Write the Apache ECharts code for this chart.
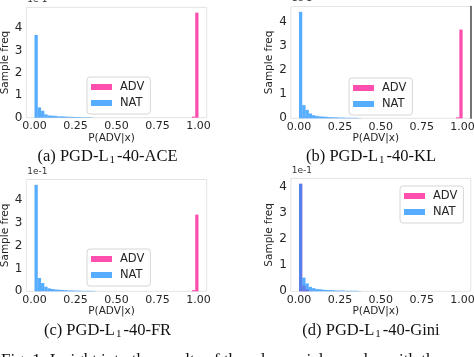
<!DOCTYPE html>
<html>
<head>
<meta charset="utf-8">
<script src="https://cdn.jsdelivr.net/npm/echarts@6/dist/echarts.min.js"></script>
<style>
  html, body { margin: 0; padding: 0; background: #fff; }
  #chart { width: 474px; height: 357px; }
</style>
</head>
<body>
<div id="chart"></div>
<script>
// ---- data (sample frequency, units of 1e-1), histogram bin width 0.02 ----
const binWidth = 0.02;
const xTicks = [0, 0.25, 0.5, 0.75, 1.0];
const yTicks = [0, 1, 2, 3, 4];
const seriesNames = ['ADV', 'NAT'];
const panelTitles = ['(a) PGD-L', '(b) PGD-L', '(c) PGD-L', '(d) PGD-L'];
const panelSuffixes = ['-40-ACE', '-40-KL', '-40-FR', '-40-Gini'];

// NAT heights for consecutive bins starting at 0.00
const natA = [3.70, 0.46, 0.31, 0.15, 0.10, 0.09, 0.08, 0.06, 0.06, 0.05, 0.04, 0.04, 0.03, 0.03, 0.02, 0.02, 0.02, 0.01];
const natB = [4.43, 0.55, 0.35, 0.20, 0.13, 0.10, 0.08, 0.07, 0.06, 0.05, 0.04, 0.04, 0.03, 0.03, 0.02, 0.02, 0.02, 0.02, 0.01];
const natC = [4.65, 0.58, 0.36, 0.20, 0.13, 0.10, 0.08, 0.07, 0.06, 0.05, 0.04, 0.04, 0.03, 0.03, 0.02, 0.02, 0.02, 0.02, 0.01];
const natD = [4.10, 0.52, 0.30, 0.17, 0.12, 0.09, 0.08, 0.06, 0.05, 0.05, 0.04, 0.03, 0.03, 0.03, 0.02, 0.02, 0.02, 0.02, 0.01];

// ADV: [bin start, height]
const advA = [[0.96, 0.05], [0.98, 4.70]];
const advB = [[0.96, 0.04], [0.98, 3.69]];
const advC = [[0.96, 0.05], [0.98, 3.35]];
const advD = [[0.00, 4.10], [0.02, 0.22], [0.04, 0.08]];

// ---- chart ----
const FONT = 'DejaVu Sans';
const ADV_COLOR = 'rgba(255,20,147,0.75)';
const NAT_COLOR = 'rgba(30,144,255,0.75)';

const natSets = [natA, natB, natC, natD];
const advSets = [advA, advB, advC, advD];

const grids = [
  { left: 26.3, top: 7.4, width: 180.4, height: 110.3 },
  { left: 290.8, top: 6.5, width: 180, height: 111.8 },
  { left: 26.3, top: 179.5, width: 180.4, height: 111.8 },
  { left: 290.8, top: 178.4, width: 180, height: 112.9 }
];
const legendPos = [
  { left: 87, top: 77 },
  { left: 349, top: 78 },
  { left: 87, top: 249 },
  { left: 400, top: 186 }
];
const captionPos = [[107.5, 157], [371, 157], [107.5, 331], [371, 331]];

function renderBin(params, api) {
  const x0 = api.value(0);
  const h = api.value(1);
  const p0 = api.coord([x0, h]);
  const p1 = api.coord([x0 + binWidth, 0]);
  return {
    type: 'rect',
    shape: { x: p0[0], y: p0[1], width: p1[0] - p0[0], height: p1[1] - p0[1] },
    style: { fill: api.visual('color') }
  };
}

const option = {
  backgroundColor: '#fff',
  animation: false,
  grid: [], xAxis: [], yAxis: [], series: [], legend: [], graphic: []
};

for (let i = 0; i < 4; i++) {
  const nat = natSets[i].map((v, k) => [k * binWidth, v]);
  const adv = advSets[i];
  const ymax = 1.05 * Math.max(...natSets[i], ...adv.map(d => d[1]));
  option.grid.push(Object.assign({
    show: true, borderColor: '#e4e4e4', borderWidth: 1, backgroundColor: 'transparent',
    outerBoundsMode: 'none', containLabel: false
  }, grids[i]));
  option.xAxis.push({
    type: 'value', gridIndex: i, min: -0.05, max: 1.05,
    axisLine: { show: false }, axisTick: { show: false }, splitLine: { show: false },
    axisLabel: {
      customValues: xTicks, formatter: v => v.toFixed(2),
      color: '#262626', fontFamily: FONT, fontSize: 11, margin: 3
    },
    name: 'P(ADV|x)', nameLocation: 'middle', nameGap: 13,
    nameTextStyle: { color: '#262626', fontFamily: FONT, fontSize: 10.5, padding: [0, 10, 0, 0] }
  });
  option.yAxis.push({
    type: 'value', gridIndex: i, min: 0, max: ymax,
    axisLine: { show: false }, axisTick: { show: false }, splitLine: { show: false },
    axisLabel: {
      customValues: yTicks, formatter: v => String(v),
      color: '#262626', fontFamily: FONT, fontSize: 12, margin: 4
    },
    name: 'Sample freq', nameLocation: 'middle', nameGap: 9, nameRotate: 90,
    nameTextStyle: { color: '#262626', fontFamily: FONT, fontSize: 10.5 }
  });
  option.series.push({
    type: 'custom', name: seriesNames[0], xAxisIndex: i, yAxisIndex: i,
    renderItem: renderBin, encode: { x: 0, y: 1 },
    itemStyle: { color: ADV_COLOR }, data: adv
  });
  option.series.push({
    type: 'custom', name: seriesNames[1], xAxisIndex: i, yAxisIndex: i,
    renderItem: renderBin, encode: { x: 0, y: 1 },
    itemStyle: { color: NAT_COLOR }, data: nat
  });
  option.legend.push(Object.assign({
    data: seriesNames, orient: 'vertical', icon: 'rect',
    itemWidth: 21, itemHeight: 6, itemGap: 4,
    selectedMode: false,
    textStyle: { color: '#262626', fontFamily: FONT, fontSize: 11.5, padding: [0, 0, 0, 3] },
    backgroundColor: 'rgba(255,255,255,0.85)', borderColor: '#d6d6d6', borderWidth: 1,
    borderRadius: 3, padding: [4, 6, 5, 4]
  }, legendPos[i]));
  // offset text "1e-1" above each y axis
  option.graphic.push({
    type: 'text', left: grids[i].left + 1, top: grids[i].top - 12,
    style: { text: '1e-1', fill: '#333', font: '9px "DejaVu Sans"' }
  });
  // panel caption with subscript
  option.graphic.push({
    type: 'text', x: captionPos[i][0], y: captionPos[i][1],
    style: {
      text: panelTitles[i] + '{sub|1}' + panelSuffixes[i],
      align: 'center', verticalAlign: 'middle',
      fontFamily: 'Liberation Serif', fontSize: 16.5, fill: '#111', lineHeight: 18,
      rich: { sub: { fontFamily: 'Liberation Serif', fontSize: 11, lineHeight: 11, verticalAlign: 'bottom', padding: [0, 2, 0, 1], fill: '#111' } }
    }
  });
}

// dark right border of panel (b)
option.yAxis.push({
  type: 'value', gridIndex: 1, position: 'right', min: 0, max: 1,
  axisLine: { show: true, lineStyle: { color: '#4a4a4a', width: 1.5 } },
  axisTick: { show: false }, axisLabel: { show: false }, splitLine: { show: false }
});

// figure caption (cut off at the bottom)
option.graphic.push({
  type: 'text', left: 1, top: 352,
  style: { text: 'Fig. 1: Insight into the results of the adversarial samples with the', fill: '#111', font: '17px "Liberation Serif"' }
});

const chart = echarts.init(document.getElementById('chart'), null, { renderer: 'canvas' });
chart.setOption(option);
</script>
</body>
</html>
